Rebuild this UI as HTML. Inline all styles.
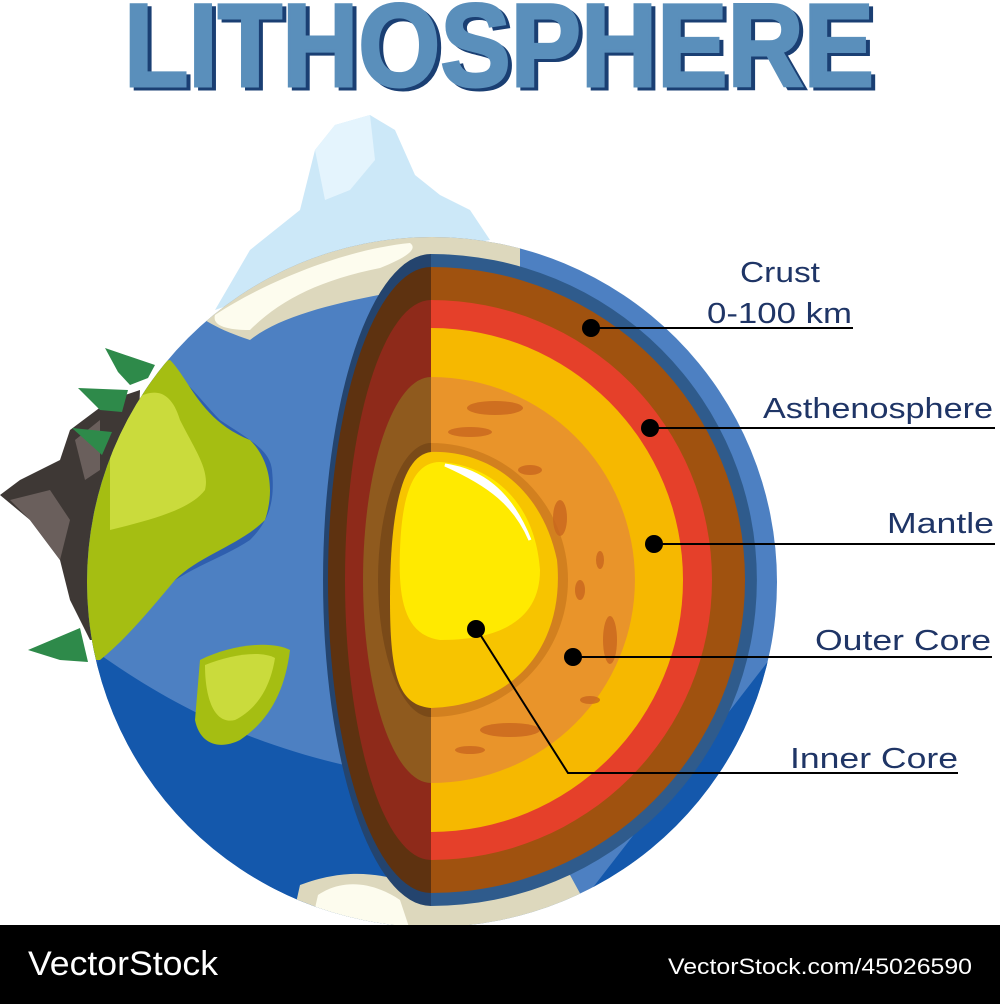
<!DOCTYPE html>
<html><head><meta charset="utf-8"><style>
html,body{margin:0;padding:0;background:#fff;}
svg{display:block;}
</style></head><body>
<svg width="1000" height="1004" viewBox="0 0 1000 1004" xmlns="http://www.w3.org/2000/svg">
<rect width="1000" height="1004" fill="#fff"/>
<g font-family="Liberation Sans, sans-serif" font-weight="bold" font-size="118">
<text x="128" y="89" textLength="750" lengthAdjust="spacingAndGlyphs" fill="#1a3f73" stroke="#1a3f73" stroke-width="3">LITHOSPHERE</text>
<text x="124" y="86" textLength="750" lengthAdjust="spacingAndGlyphs" fill="#5a8fbb" stroke="#5a8fbb" stroke-width="3">LITHOSPHERE</text>
</g>
<path d="M215,310 L250,250 L300,210 L315,150 L335,125 L370,115 L395,130 L415,175 L440,195 L470,210 L490,240 L330,270 Z" fill="#cce8f8"/>
<path d="M315,150 L335,125 L370,115 L375,160 L350,190 L325,200 Z" fill="#e4f4fd"/>
<path d="M0,495 L20,480 L60,460 L70,430 L110,400 L140,390 L130,640 L90,640 L70,600 L60,560 L30,520 Z" fill="#3e3835"/>
<path d="M10,500 L50,490 L70,520 L60,560 L30,520Z M75,440 L100,420 L100,470 L85,480Z" fill="#6a5f5c"/>
<g fill="#2e8a4a">
<path d="M105,348 L155,365 L148,378 L130,385 L118,372Z"/>
<path d="M78,388 L128,390 L122,412 L100,410Z"/>
<path d="M72,428 L112,432 L102,455 Z"/>
<path d="M28,650 L80,628 L88,662 L60,660Z"/>
</g>
<defs>
<clipPath id="g"><circle cx="432" cy="582" r="345"/></clipPath>
</defs>
<g clip-path="url(#g)">
<rect x="80" y="230" width="720" height="700" fill="#4d80c2"/>
<path d="M80,640 C200,730 300,760 420,780 L420,930 L80,930Z" fill="#1458ac"/>
<path d="M560,930 L800,620 L800,930Z" fill="#1458ac"/>
<path d="M180,300 C220,270 330,235 480,232 L520,240 L520,270 C420,290 300,300 250,340 C220,330 200,320 180,300Z" fill="#ddd8bd"/>
<path d="M215,315 C260,285 340,250 410,243 C420,250 400,260 380,268 C320,280 280,300 250,330 C225,330 212,325 215,315Z" fill="#fdfcee"/>
<path d="M290,930 L300,885 C340,870 370,872 400,880 C450,890 520,880 570,875 L600,930Z" fill="#ddd8bd"/>
<path d="M310,930 L318,895 C340,880 370,880 400,900 L410,930Z" fill="#fdfcee"/>
<path d="M150,355 C180,370 200,400 220,420 C250,440 270,450 272,470 C275,500 270,520 250,540 C220,560 180,570 150,600 C130,620 110,650 90,670 L80,360Z" fill="#2f5fae"/>
<path d="M85,380 L170,360 C190,380 200,420 250,440 C270,460 275,490 265,520 C240,545 200,555 175,580 C150,610 125,640 100,660 L85,660Z" fill="#a5be12"/>
<path d="M110,420 C130,400 165,370 180,420 C195,450 210,470 205,490 C190,510 150,520 110,530Z" fill="#cadb3c"/>
<path d="M200,660 C230,645 270,640 290,650 C285,690 270,720 240,740 C220,750 200,745 195,720Z" fill="#a5be12"/>
<path d="M205,665 C230,655 260,650 275,658 C270,690 255,710 235,720 C215,725 205,700 205,665Z" fill="#cadb3c"/>
</g>
<g>
<path d="M431,254 A326,326 0 0 1 431,906 Z" fill="#2f5b8c"/>
<path d="M431,267 A314,313 0 0 1 431,893 Z" fill="#a0520f"/>
<path d="M431,300 A281,280 0 0 1 431,860 Z" fill="#e5402a"/>
<path d="M431,328 A252,252 0 0 1 431,832 Z" fill="#f6b800"/>
<path d="M431,377 A204,203 0 0 1 431,783 Z" fill="#e9942a"/>
<path d="M431,443 A137,137 0 0 1 431,717 Z" fill="#d2801f"/>
<path d="M431,254 A108,326 0 0 0 431,906 Z" fill="#24446e"/>
<path d="M431,267 A103,313 0 0 0 431,893 Z" fill="#5e3210"/>
<path d="M431,300 A86,280 0 0 0 431,860 Z" fill="#8e2a1a"/>
<path d="M431,377 A68,203 0 0 0 431,783 Z" fill="#8f5a1e"/>
<path d="M431,443 A53,137 0 0 0 431,717 Z" fill="#7a4a18"/>
<path d="M431,452 C480,450 540,480 557,560 C565,640 520,705 431,708 C400,705 390,680 390,600 C390,500 405,455 431,452Z" fill="#f7c400"/>
<path d="M440,462 C490,465 535,500 540,570 C540,620 500,640 440,640 C405,635 398,600 400,550 C402,490 415,462 440,462Z" fill="#ffea00"/>
<path d="M445,465 C480,470 510,490 530,540 C515,505 490,485 445,465Z" fill="#fff" stroke="#fff" stroke-width="3"/>
<g fill="#c9661e" opacity="0.8">
<ellipse cx="495" cy="408" rx="28" ry="7"/><ellipse cx="470" cy="432" rx="22" ry="5"/>
<ellipse cx="560" cy="518" rx="7" ry="18"/><ellipse cx="610" cy="640" rx="7" ry="24"/>
<ellipse cx="510" cy="730" rx="30" ry="7"/><ellipse cx="580" cy="590" rx="5" ry="10"/>
<ellipse cx="600" cy="560" rx="4" ry="9"/><ellipse cx="530" cy="470" rx="12" ry="5"/>
<ellipse cx="470" cy="750" rx="15" ry="4"/><ellipse cx="590" cy="700" rx="10" ry="4"/>
</g>
</g>
<g stroke="#000" stroke-width="2" fill="none">
<line x1="591" y1="328" x2="853" y2="328"/>
<line x1="650" y1="428" x2="995" y2="428"/>
<line x1="654" y1="544" x2="995" y2="544"/>
<line x1="573" y1="657" x2="992" y2="657"/>
<polyline points="476,628 568,773 958,773"/>
</g>
<g fill="#000">
<circle cx="591" cy="328" r="9"/><circle cx="650" cy="428" r="9"/>
<circle cx="654" cy="544" r="9"/><circle cx="573" cy="657" r="9"/>
<circle cx="476" cy="629" r="9"/>
</g>
<g font-family="Liberation Sans, sans-serif" font-size="29" fill="#1f3566">
<text x="740" y="282" textLength="80" lengthAdjust="spacingAndGlyphs">Crust</text>
<text x="707" y="323" textLength="145" lengthAdjust="spacingAndGlyphs">0-100 km</text>
<text x="763" y="418" textLength="230" lengthAdjust="spacingAndGlyphs">Asthenosphere</text>
<text x="887" y="533" textLength="107" lengthAdjust="spacingAndGlyphs">Mantle</text>
<text x="815" y="650" textLength="176" lengthAdjust="spacingAndGlyphs">Outer Core</text>
<text x="790" y="768" textLength="168" lengthAdjust="spacingAndGlyphs">Inner Core</text>
</g>
<rect x="0" y="925" width="1000" height="79" fill="#000"/>
<text x="28" y="975" font-family="Liberation Sans, sans-serif" font-size="34" fill="#fff" textLength="190" lengthAdjust="spacingAndGlyphs">VectorStock</text>
<text x="668" y="974" font-family="Liberation Sans, sans-serif" font-size="22" fill="#fff" textLength="304" lengthAdjust="spacingAndGlyphs">VectorStock.com/45026590</text>
</svg>
</body></html>
